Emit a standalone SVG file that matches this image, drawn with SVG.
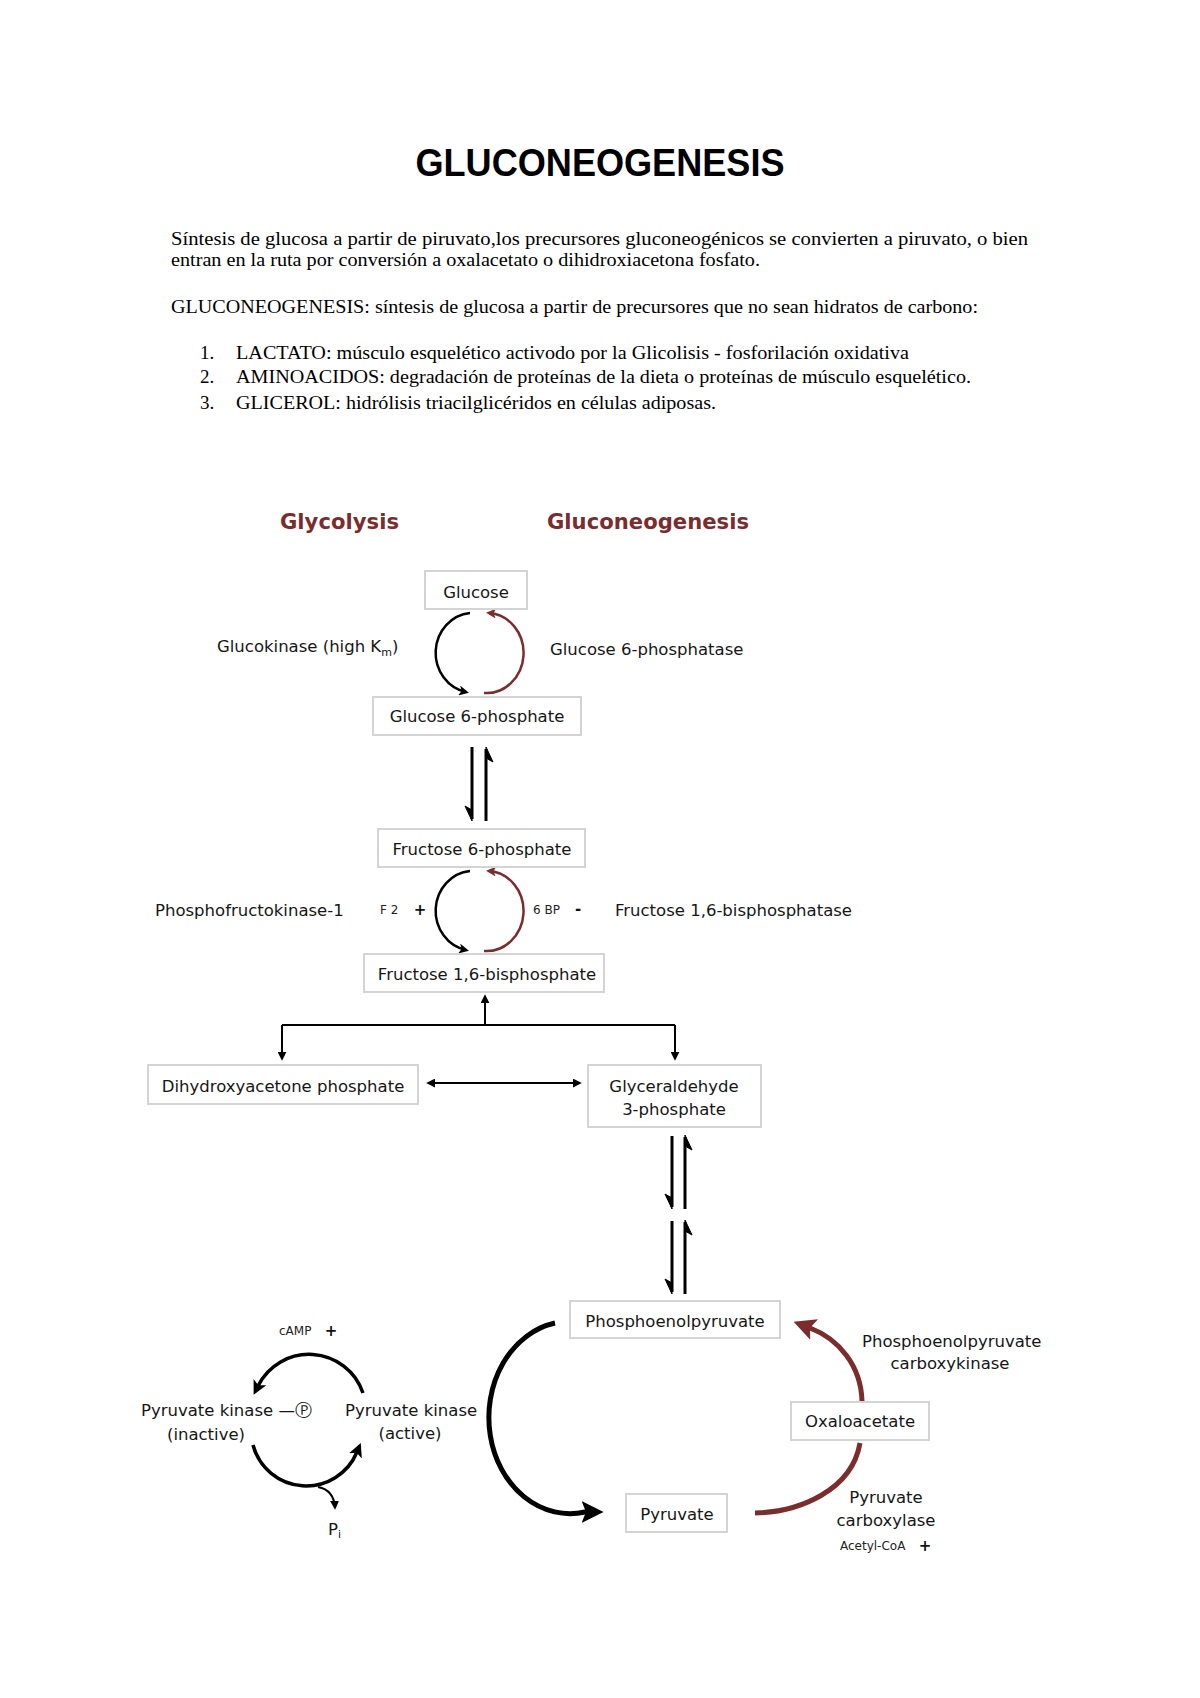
<svg xmlns="http://www.w3.org/2000/svg" width="1200" height="1698" viewBox="0 0 1200 1698">
<style>
.title{font-family:"Liberation Sans",Arial,sans-serif;font-size:38px;font-weight:bold;fill:#000}
.body{font-family:"Liberation Serif","Times New Roman",serif;font-size:19px;fill:#000}
.lbl{font-family:"DejaVu Sans",Verdana,sans-serif;font-size:16.5px;fill:#161616}
.sm{font-family:"DejaVu Sans",Verdana,sans-serif;font-size:12px;fill:#222}
.pm{font-family:"DejaVu Sans",Verdana,sans-serif;font-size:15px;font-weight:bold;fill:#111}
.hd{font-family:"DejaVu Sans",Verdana,sans-serif;font-size:22px;font-weight:bold;fill:#7b2d2d}
.box{fill:#fff;stroke:#d4d4d4;stroke-width:2}
.k{fill:none;stroke:#000;stroke-width:2.5}
.r{fill:none;stroke:#7b2d2d;stroke-width:2.5}
.kt{fill:none;stroke:#000;stroke-width:2}
.kb{fill:none;stroke:#000;stroke-width:5}
.rb{fill:none;stroke:#7b2d2d;stroke-width:5}
.km{fill:none;stroke:#000;stroke-width:3.5}
.hl{stroke:#000;stroke-width:3;fill:none}
.hb{fill:#000;stroke:#000;stroke-width:1}
</style>
<defs>
<marker id="ak" viewBox="0 0 10 10" refX="7" refY="5" markerWidth="10" markerHeight="10" markerUnits="userSpaceOnUse" orient="auto"><path d="M0,0 L10,5 L0,10 L2.5,5 z" fill="#000"/></marker>
<marker id="ar" viewBox="0 0 10 10" refX="7" refY="5" markerWidth="10" markerHeight="10" markerUnits="userSpaceOnUse" orient="auto"><path d="M0,0 L10,5 L0,10 L2.5,5 z" fill="#7b2d2d"/></marker>
<marker id="at" viewBox="0 0 10 10" refX="8" refY="5" markerWidth="9" markerHeight="9" markerUnits="userSpaceOnUse" orient="auto-start-reverse"><path d="M0,0 L10,5 L0,10 z" fill="#000"/></marker>
<marker id="akm" viewBox="0 0 10 10" refX="3" refY="5" markerWidth="14" markerHeight="14" markerUnits="userSpaceOnUse" orient="auto"><path d="M0,0 L10,5 L0,10 L2.5,5 z" fill="#000"/></marker>
<marker id="akL" viewBox="0 0 20 20" refX="4" refY="10" markerWidth="22" markerHeight="22" markerUnits="userSpaceOnUse" orient="auto"><path d="M0,0 L20,10 L0,20 L4,10 z" fill="#000"/></marker>
<marker id="arL" viewBox="0 0 20 20" refX="4" refY="10" markerWidth="22" markerHeight="22" markerUnits="userSpaceOnUse" orient="auto"><path d="M0,0 L20,10 L0,20 L4,10 z" fill="#7b2d2d"/></marker>
</defs>
<rect x="0" y="0" width="1200" height="1698" fill="#fff"/>

<g id="header">
<text class="title" x="600" y="176" text-anchor="middle" textLength="369" lengthAdjust="spacingAndGlyphs">GLUCONEOGENESIS</text>
<text class="body" x="171" y="245" textLength="857" lengthAdjust="spacingAndGlyphs">Síntesis de glucosa a partir de piruvato,los precursores gluconeogénicos se convierten a piruvato, o bien</text>
<text class="body" x="171" y="266" textLength="589" lengthAdjust="spacingAndGlyphs">entran en la ruta por conversión a oxalacetato o dihidroxiacetona fosfato.</text>
<text class="body" x="171" y="313" textLength="807" lengthAdjust="spacingAndGlyphs">GLUCONEOGENESIS: síntesis de glucosa a partir de precursores que no sean hidratos de carbono:</text>
<text class="body" x="200" y="359">1.</text>
<text class="body" x="236" y="359" textLength="673" lengthAdjust="spacingAndGlyphs">LACTATO: músculo esquelético activodo por la Glicolisis - fosforilación oxidativa</text>
<text class="body" x="200" y="383">2.</text>
<text class="body" x="236" y="383" textLength="735" lengthAdjust="spacingAndGlyphs">AMINOACIDOS: degradación de proteínas de la dieta o proteínas de músculo esquelético.</text>
<text class="body" x="200" y="409">3.</text>
<text class="body" x="236" y="409" textLength="480" lengthAdjust="spacingAndGlyphs">GLICEROL: hidrólisis triacilglicéridos en células adiposas.</text>
</g>

<g id="headings">
<text class="hd" x="280" y="529" textLength="119" lengthAdjust="spacingAndGlyphs">Glycolysis</text>
<text class="hd" x="547" y="529" textLength="202" lengthAdjust="spacingAndGlyphs">Gluconeogenesis</text>
</g>

<g id="connectors">
<!-- glucose cycle -->
<path class="k" d="M470,613 A38,40 0 0 0 466,692" marker-end="url(#ak)"/>
<path class="r" d="M484,693 A37,40 0 0 0 489,613" marker-end="url(#ar)"/>
<!-- G6P <-> F6P -->
<line class="hl" x1="472" y1="747" x2="472" y2="819"/>
<polygon class="hb" points="472,821 465,806 472,810"/>
<line class="hl" x1="486" y1="821" x2="486" y2="749"/>
<polygon class="hb" points="486,747 493,762 486,758"/>
<!-- fructose cycle -->
<path class="k" d="M470,871 A38,40 0 0 0 466,950" marker-end="url(#ak)"/>
<path class="r" d="M484,951 A37,40 0 0 0 489,871" marker-end="url(#ar)"/>
<!-- tree -->
<path class="kt" d="M485,1025 L485,996" marker-end="url(#at)"/>
<path class="kt" d="M282,1025 L675,1025"/>
<path class="kt" d="M282,1025 L282,1059" marker-end="url(#at)"/>
<path class="kt" d="M675,1025 L675,1059" marker-end="url(#at)"/>
<path class="kt" d="M428,1083 L580,1083" marker-start="url(#at)" marker-end="url(#at)"/>
<!-- G3P <-> PEP -->
<line class="hl" x1="672" y1="1136" x2="672" y2="1207"/>
<polygon class="hb" points="672,1209 665,1194 672,1198"/>
<line class="hl" x1="685" y1="1209" x2="685" y2="1137"/>
<polygon class="hb" points="685,1135 692,1150 685,1146"/>
<line class="hl" x1="672" y1="1221" x2="672" y2="1292"/>
<polygon class="hb" points="672,1294 665,1279 672,1283"/>
<line class="hl" x1="685" y1="1294" x2="685" y2="1222"/>
<polygon class="hb" points="685,1220 692,1235 685,1231"/>
<!-- PEP -> Pyruvate (pyruvate kinase) -->
<path class="kb" d="M555,1323 A81,96 0 1 0 585,1512 L586,1512" marker-end="url(#akL)"/>
<!-- Pyruvate -> OAA -> PEP -->
<path class="rb" d="M755,1513 C800,1512 852,1490 860,1443"/>
<path class="rb" d="M862,1401 C861,1366 839,1339 810,1328" marker-end="url(#arL)"/>
<!-- pyruvate kinase regulation cycle -->
<path class="km" d="M363,1393 A57,57 0 0 0 258,1386" marker-end="url(#akm)"/>
<path class="km" d="M253,1445 A55,55 0 0 0 357,1452" marker-end="url(#akm)"/>
<path class="kt" d="M318,1487 Q334,1490 335,1508" marker-end="url(#at)"/>
</g>

<g id="glucose"><rect class="box" x="425" y="571" width="102" height="38"/><text class="lbl" x="476" y="598" text-anchor="middle">Glucose</text></g>
<g id="glucose6p"><rect class="box" x="373" y="697" width="208" height="38"/><text class="lbl" x="477" y="722" text-anchor="middle">Glucose 6-phosphate</text></g>
<g id="fructose6p"><rect class="box" x="378" y="829" width="207" height="38"/><text class="lbl" x="482" y="855" text-anchor="middle">Fructose 6-phosphate</text></g>
<g id="fructose16bp"><rect class="box" x="364" y="954" width="240" height="38"/><text class="lbl" x="487" y="980" text-anchor="middle">Fructose 1,6-bisphosphate</text></g>
<g id="dhap"><rect class="box" x="148" y="1065" width="270" height="39"/><text class="lbl" x="283" y="1092" text-anchor="middle">Dihydroxyacetone phosphate</text></g>
<g id="g3p"><rect class="box" x="588" y="1065" width="173" height="62"/><text class="lbl" x="674" y="1092" text-anchor="middle">Glyceraldehyde</text><text class="lbl" x="674" y="1115" text-anchor="middle">3-phosphate</text></g>
<g id="pep"><rect class="box" x="570" y="1301" width="210" height="37"/><text class="lbl" x="675" y="1327" text-anchor="middle">Phosphoenolpyruvate</text></g>
<g id="oaa"><rect class="box" x="791" y="1402" width="138" height="38"/><text class="lbl" x="860" y="1427" text-anchor="middle">Oxaloacetate</text></g>
<g id="pyruvate"><rect class="box" x="626" y="1494" width="101" height="38"/><text class="lbl" x="677" y="1520" text-anchor="middle">Pyruvate</text></g>

<g id="labels">
<text class="lbl" x="217" y="652">Glucokinase (high K<tspan font-size="11" dy="4">m</tspan><tspan dy="-4">)</tspan></text>
<text class="lbl" x="550" y="655">Glucose 6-phosphatase</text>
<text class="lbl" x="155" y="916">Phosphofructokinase-1</text>
<text class="sm" x="380" y="914">F 2</text>
<text class="pm" x="420" y="915" text-anchor="middle">+</text>
<text class="sm" x="533" y="914">6 BP</text>
<text class="pm" x="578" y="914" text-anchor="middle">-</text>
<text class="lbl" x="615" y="916">Fructose 1,6-bisphosphatase</text>
<text class="lbl" x="862" y="1347">Phosphoenolpyruvate</text>
<text class="lbl" x="950" y="1369" text-anchor="middle">carboxykinase</text>
<text class="lbl" x="886" y="1503" text-anchor="middle">Pyruvate</text>
<text class="lbl" x="886" y="1526" text-anchor="middle">carboxylase</text>
<text class="sm" x="840" y="1550">Acetyl-CoA</text>
<text class="pm" x="925" y="1551" text-anchor="middle">+</text>
<text class="sm" x="279" y="1335">cAMP</text>
<text class="pm" x="331" y="1336" text-anchor="middle">+</text>
<text class="lbl" x="141" y="1416">Pyruvate kinase —Ⓟ</text>
<text class="lbl" x="206" y="1440" text-anchor="middle">(inactive)</text>
<text class="lbl" x="345" y="1416">Pyruvate kinase</text>
<text class="lbl" x="410" y="1439" text-anchor="middle">(active)</text>
<text class="lbl" x="328" y="1535">P<tspan font-size="11" dy="3">i</tspan></text>
</g>
</svg>
